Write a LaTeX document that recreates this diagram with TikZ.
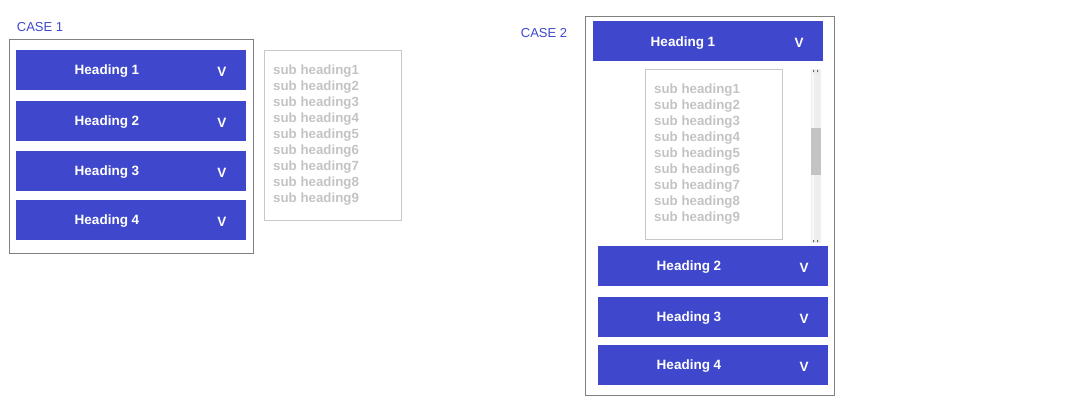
\documentclass[tikz,border=0pt]{standalone}
\usepackage{fontspec}
\setmainfont{Liberation Sans}
\usetikzlibrary{positioning}
\definecolor{barblue}{HTML}{3F48CC}
\definecolor{framegray}{HTML}{808080}
\definecolor{boxgray}{HTML}{C8C8C8}
\definecolor{subgray}{HTML}{C3C3C3}
\definecolor{trackgray}{HTML}{EEEEEE}
\tikzset{
  bar/.style={fill=barblue, minimum width=230pt, minimum height=40pt, inner sep=0pt},
  htext/.style={text=white, font=\fontsize{13.5}{13.5}\selectfont\bfseries, anchor=base, inner sep=0pt},
  vtext/.style={text=white, font=\fontsize{13.5}{13.5}\selectfont\bfseries, anchor=base, inner sep=0pt},
  subtext/.style={text=subgray, font=\fontsize{13.3}{13.3}\selectfont\bfseries, anchor=base west, inner sep=0pt},
  casetext/.style={text=barblue, font=\fontsize{13}{13}\selectfont, anchor=base, inner sep=0pt},
  frame/.style={draw=framegray, line width=1pt},
  subbox/.style={draw=boxgray, line width=1pt}
}
\begin{document}
\begin{tikzpicture}[x=1pt,y=-1pt]
		\useasboundingbox (0,0) rectangle (1085,410);
		% case 1
		\node[casetext] (case1) at (40,31) {CASE 1};
		\draw[frame] (9,39) rectangle (253,253);
		\foreach \i/\y in {1/70,2/121,3/171,4/220}{
			\node[bar] (c1h\i) at (131,\y) {};
			\node[htext] at ([xshift=-24,yshift=-4.5]c1h\i.center) {Heading \i};
			\node[vtext] at ([xshift=91,yshift=-6.5]c1h\i.center) {V};
		}
		\draw[subbox] (264,50) rectangle (401,220);
		\foreach \i in {1,...,9}{
			\node[subtext] (c1s\i) at (273,74+16*\i-16) {sub heading\i};
		}
		
		% case 2
		\node[casetext] (case2) at (544,37) {CASE 2};
		\draw[frame] (585,16) rectangle (834,395);
		\node[bar] (c2h1) at (708,41) {};
		\node[htext] at ([xshift=-25,yshift=-5]c2h1.center) {Heading 1};
		\node[vtext] at ([xshift=91,yshift=-6.5]c2h1.center) {V};
		\draw[subbox] (645,69) rectangle (782,239);
		\foreach \i in {1,...,9}{
			\node[subtext] (c2s\i) at (654,93+16*\i-16) {sub heading\i};
		}
		% scrollbar
		\fill[trackgray] (811,69) rectangle (821,243);
		\fill[white!60!trackgray] (812,70) rectangle (814,242);
		\fill[subgray] (811,128) rectangle (821,175);
		\fill[black!60] (813,70) rectangle (814,72) (817,70) rectangle (818,72);
		\fill[black!60] (813,240) rectangle (814,242) (817,240) rectangle (818,242);
		\foreach \i/\y in {2/266,3/317,4/365}{
			\node[bar] (c2h\i) at (713,\y) {};
			\node[htext] at ([xshift=-24,yshift=-4.5]c2h\i.center) {Heading \i};
			\node[vtext] at ([xshift=91,yshift=-6.5]c2h\i.center) {V};
		}
\end{tikzpicture}
\end{document}
